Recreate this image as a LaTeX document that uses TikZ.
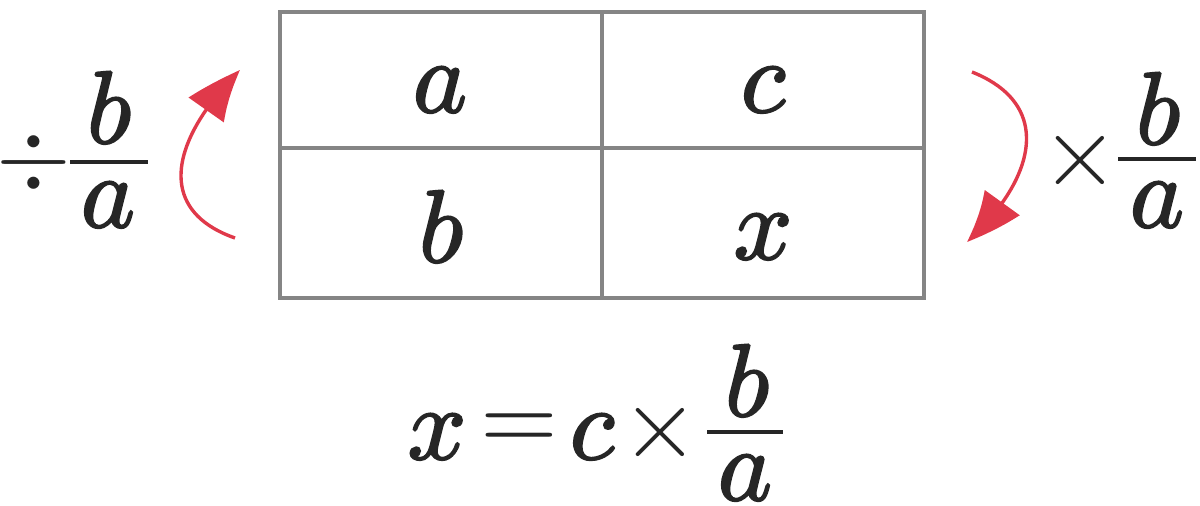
\documentclass[tikz,border=0pt]{standalone}
\usetikzlibrary{arrows.meta,bending}
\definecolor{arrowred}{HTML}{E0394A}
\definecolor{gridgray}{HTML}{858585}
\definecolor{ink}{HTML}{262626}
\newcommand\heavytext[1]{\special{pdf:literal direct 2 Tr 0.2 w}#1\special{pdf:literal direct 0 Tr}}
\begin{document}
\begin{tikzpicture}[x=1pt,y=-1pt,
  lbl/.style={inner sep=0pt, anchor=base, text=ink, font=\fontsize{10}{12}\selectfont, scale=10.3},
  sym/.style={inner sep=0pt, anchor=center, text=ink, font=\fontsize{10}{12}\selectfont, scale=10},
  fbar/.style={draw=ink, line width=4pt},
  grid/.style={draw=gridgray, line width=4pt},
  turn/.style={draw=arrowred, line width=3.4pt, -{Triangle[length=56pt,width=42pt,bend]}}]
\useasboundingbox (0,0) rectangle (1200,506);
% table
\draw[grid] (280,12) rectangle (924,298);
\draw[grid] (602,12) -- (602,298);
\draw[grid] (280,148) -- (924,148);
% cell labels
\node[lbl] (ca) at (440,112) {\heavytext{$a$}};
\node[lbl] (cc) at (763,112) {\heavytext{$c$}};
\node[lbl] (cb) at (441,262) {\heavytext{$b$}};
\node[lbl] (cx) at (763,259) {\heavytext{$x$}};
% left label: divide by b/a
\node[sym, scale=0.96] (ldiv) at (34,162) {\hbox to 0pt{\hss$\div$\hss}};
\coordinate (lb1) at (70,162);
\coordinate (lb2) at (148,162);
\draw[fbar] (lb1) -- (lb2);
\node[lbl] (lnum) at (109,143) {\heavytext{$b$}};
\node[lbl] (lden) at (108,227) {\heavytext{$a$}};
% right label: times b/a
\node[sym] (rmul) at (1080,160) {$\times$};
\coordinate (rb1) at (1118,159);
\coordinate (rb2) at (1196,159);
\draw[fbar] (rb1) -- (rb2);
\node[lbl] (rnum) at (1158,144) {\heavytext{$b$}};
\node[lbl] (rden) at (1157,227) {\heavytext{$a$}};
% bottom equation
\node[lbl] (ex) at (437,459) {\heavytext{$x$}};
\node[sym] (eeq) at (519,432) {$=$};
\node[lbl] (ec) at (592,459) {\heavytext{$c$}};
\node[sym] (emul) at (660,432) {$\times$};
\coordinate (eb1) at (707,432);
\coordinate (eb2) at (783,432);
\draw[fbar] (eb1) -- (eb2);
\node[lbl] (enum) at (747,416) {\heavytext{$b$}};
\node[lbl] (eden) at (745,500) {\heavytext{$a$}};
% arrows
\coordinate (ls) at (235,238);
\coordinate (le) at (240,70);
\coordinate (rs) at (972,72);
\coordinate (re) at (967,242);
\draw[turn] (ls) .. controls (155,210) and (170,140) .. (le);
\draw[turn] (rs) .. controls (1055,105) and (1035,180) .. (re);
\end{tikzpicture}
\end{document}
